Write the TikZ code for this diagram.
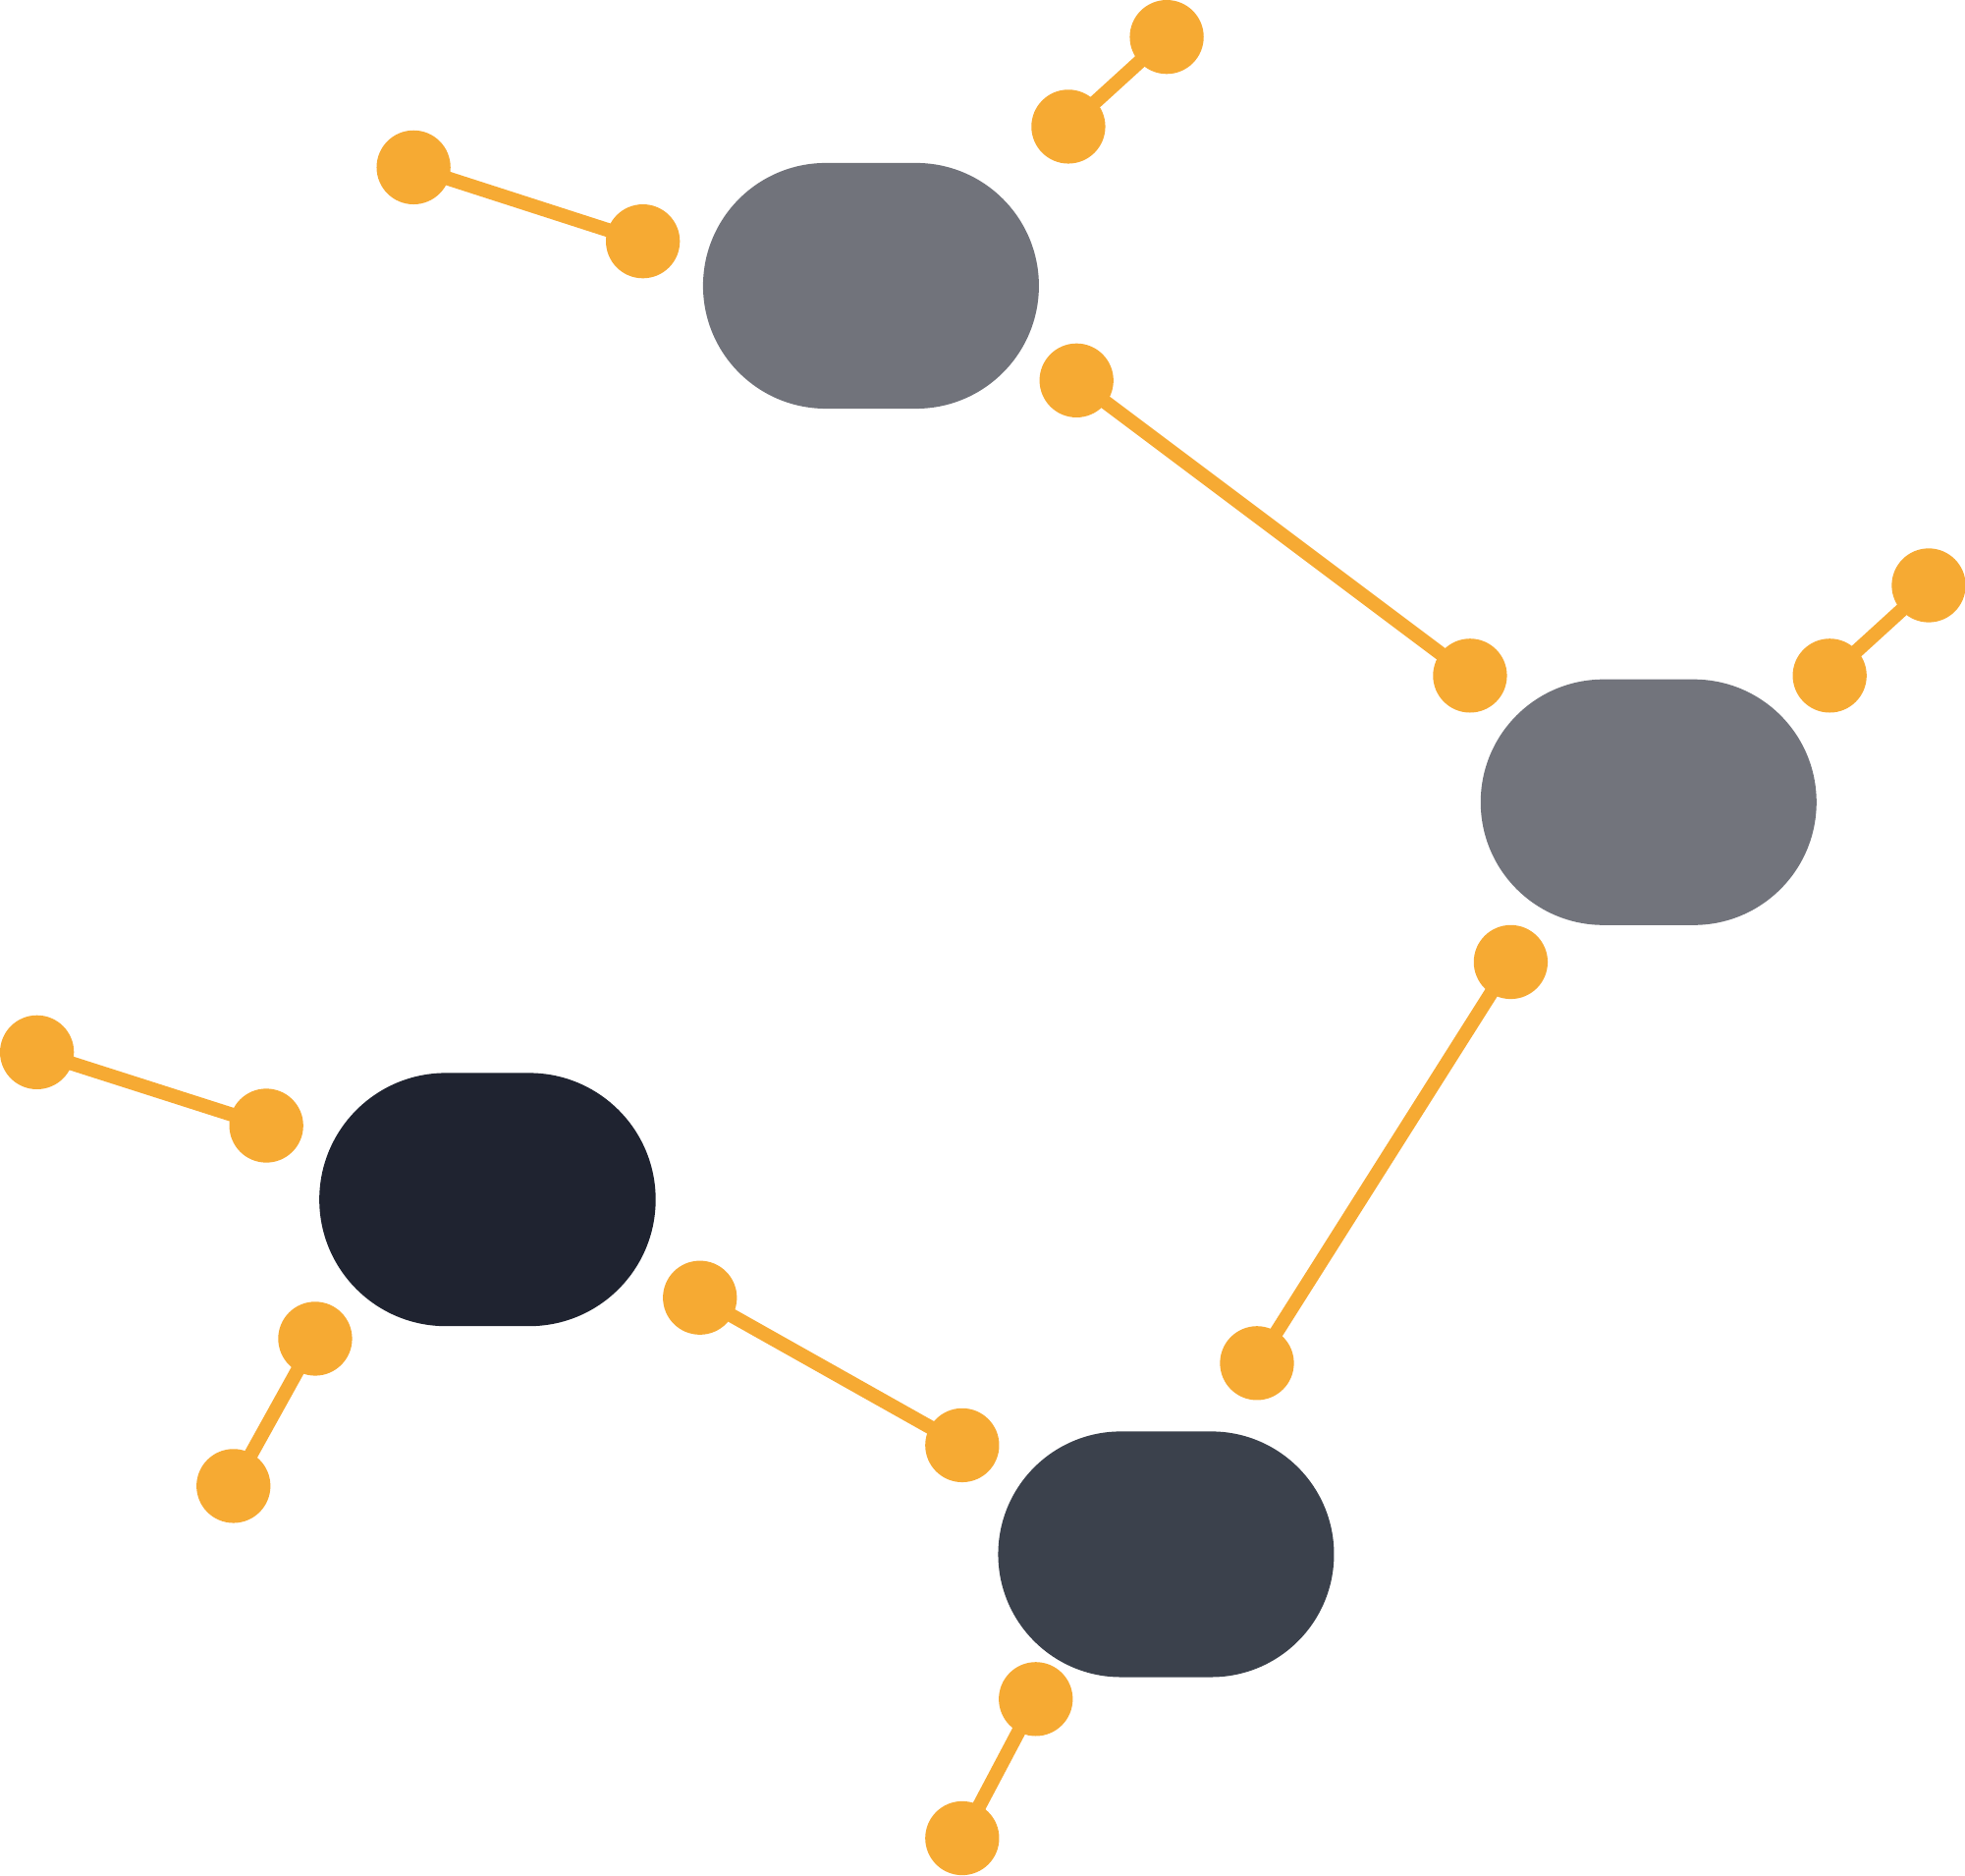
\documentclass[tikz,border=0pt]{standalone}
\usetikzlibrary{shapes.misc,backgrounds}
\definecolor{dotorange}{HTML}{F6AA33}
\definecolor{pillgray}{HTML}{71737B}
\definecolor{pillgraytwo}{HTML}{72747C}
\definecolor{pilldark}{HTML}{1F2330}
\definecolor{pillslate}{HTML}{3B414C}
\tikzset{
  dot/.style={circle, fill=dotorange, draw=none, minimum size=29.5pt, inner sep=0pt},
  link/.style={draw=dotorange, line width=5.6pt},
  pill/.style={rounded rectangle, draw=none, inner sep=0pt, minimum width=134pt, minimum height=98pt}
}
\begin{document}
\begin{tikzpicture}[x=0.5pt, y=-0.5pt]
\useasboundingbox (0,0) rectangle (1568,1496);
% pills
\node[pill, fill=pillgray] (p1) at (695,228) {};
\node[pill, fill=pillgraytwo] (p2) at (1315.5,640) {};
\node[pill, fill=pilldark, minimum width=134.2pt, minimum height=101pt] (p3) at (389,957) {};
\node[pill, fill=pillslate] (p4) at (930.5,1240) {};
% dots
\node[dot] (a1) at (330,133.5) {};
\node[dot] (a2) at (513,192.5) {};
\node[dot] (b1) at (852.5,101) {};
\node[dot] (b2) at (931,29.5) {};
\node[dot] (c1) at (859,303.5) {};
\node[dot] (c2) at (1173,539) {};
\node[dot] (d1) at (1460,539) {};
\node[dot] (d2) at (1539,467) {};
\node[dot] (e1) at (1205.5,767.5) {};
\node[dot] (e2) at (1003,1087.5) {};
\node[dot] (f1) at (29.5,839.5) {};
\node[dot] (f2) at (212.5,898) {};
\node[dot] (g1) at (251.5,1068) {};
\node[dot] (g2) at (186.3,1185.5) {};
\node[dot] (h1) at (558.5,1035.3) {};
\node[dot] (h2) at (767.8,1153) {};
\node[dot] (i1) at (826.5,1355.5) {};
\node[dot] (i2) at (767.8,1466.5) {};
% links
\begin{pgfonlayer}{background}
\draw[link] (a1.center) -- (a2.center);
\draw[link] (b1.center) -- (b2.center);
\draw[link] (c1.center) -- (c2.center);
\draw[link] (d1.center) -- (d2.center);
\draw[link] (e1.center) -- (e2.center);
\draw[link] (f1.center) -- (f2.center);
\draw[link] (g1.center) -- (g2.center);
\draw[link] (h1.center) -- (h2.center);
\draw[link] (i1.center) -- (i2.center);
\end{pgfonlayer}
\end{tikzpicture}
\end{document}
